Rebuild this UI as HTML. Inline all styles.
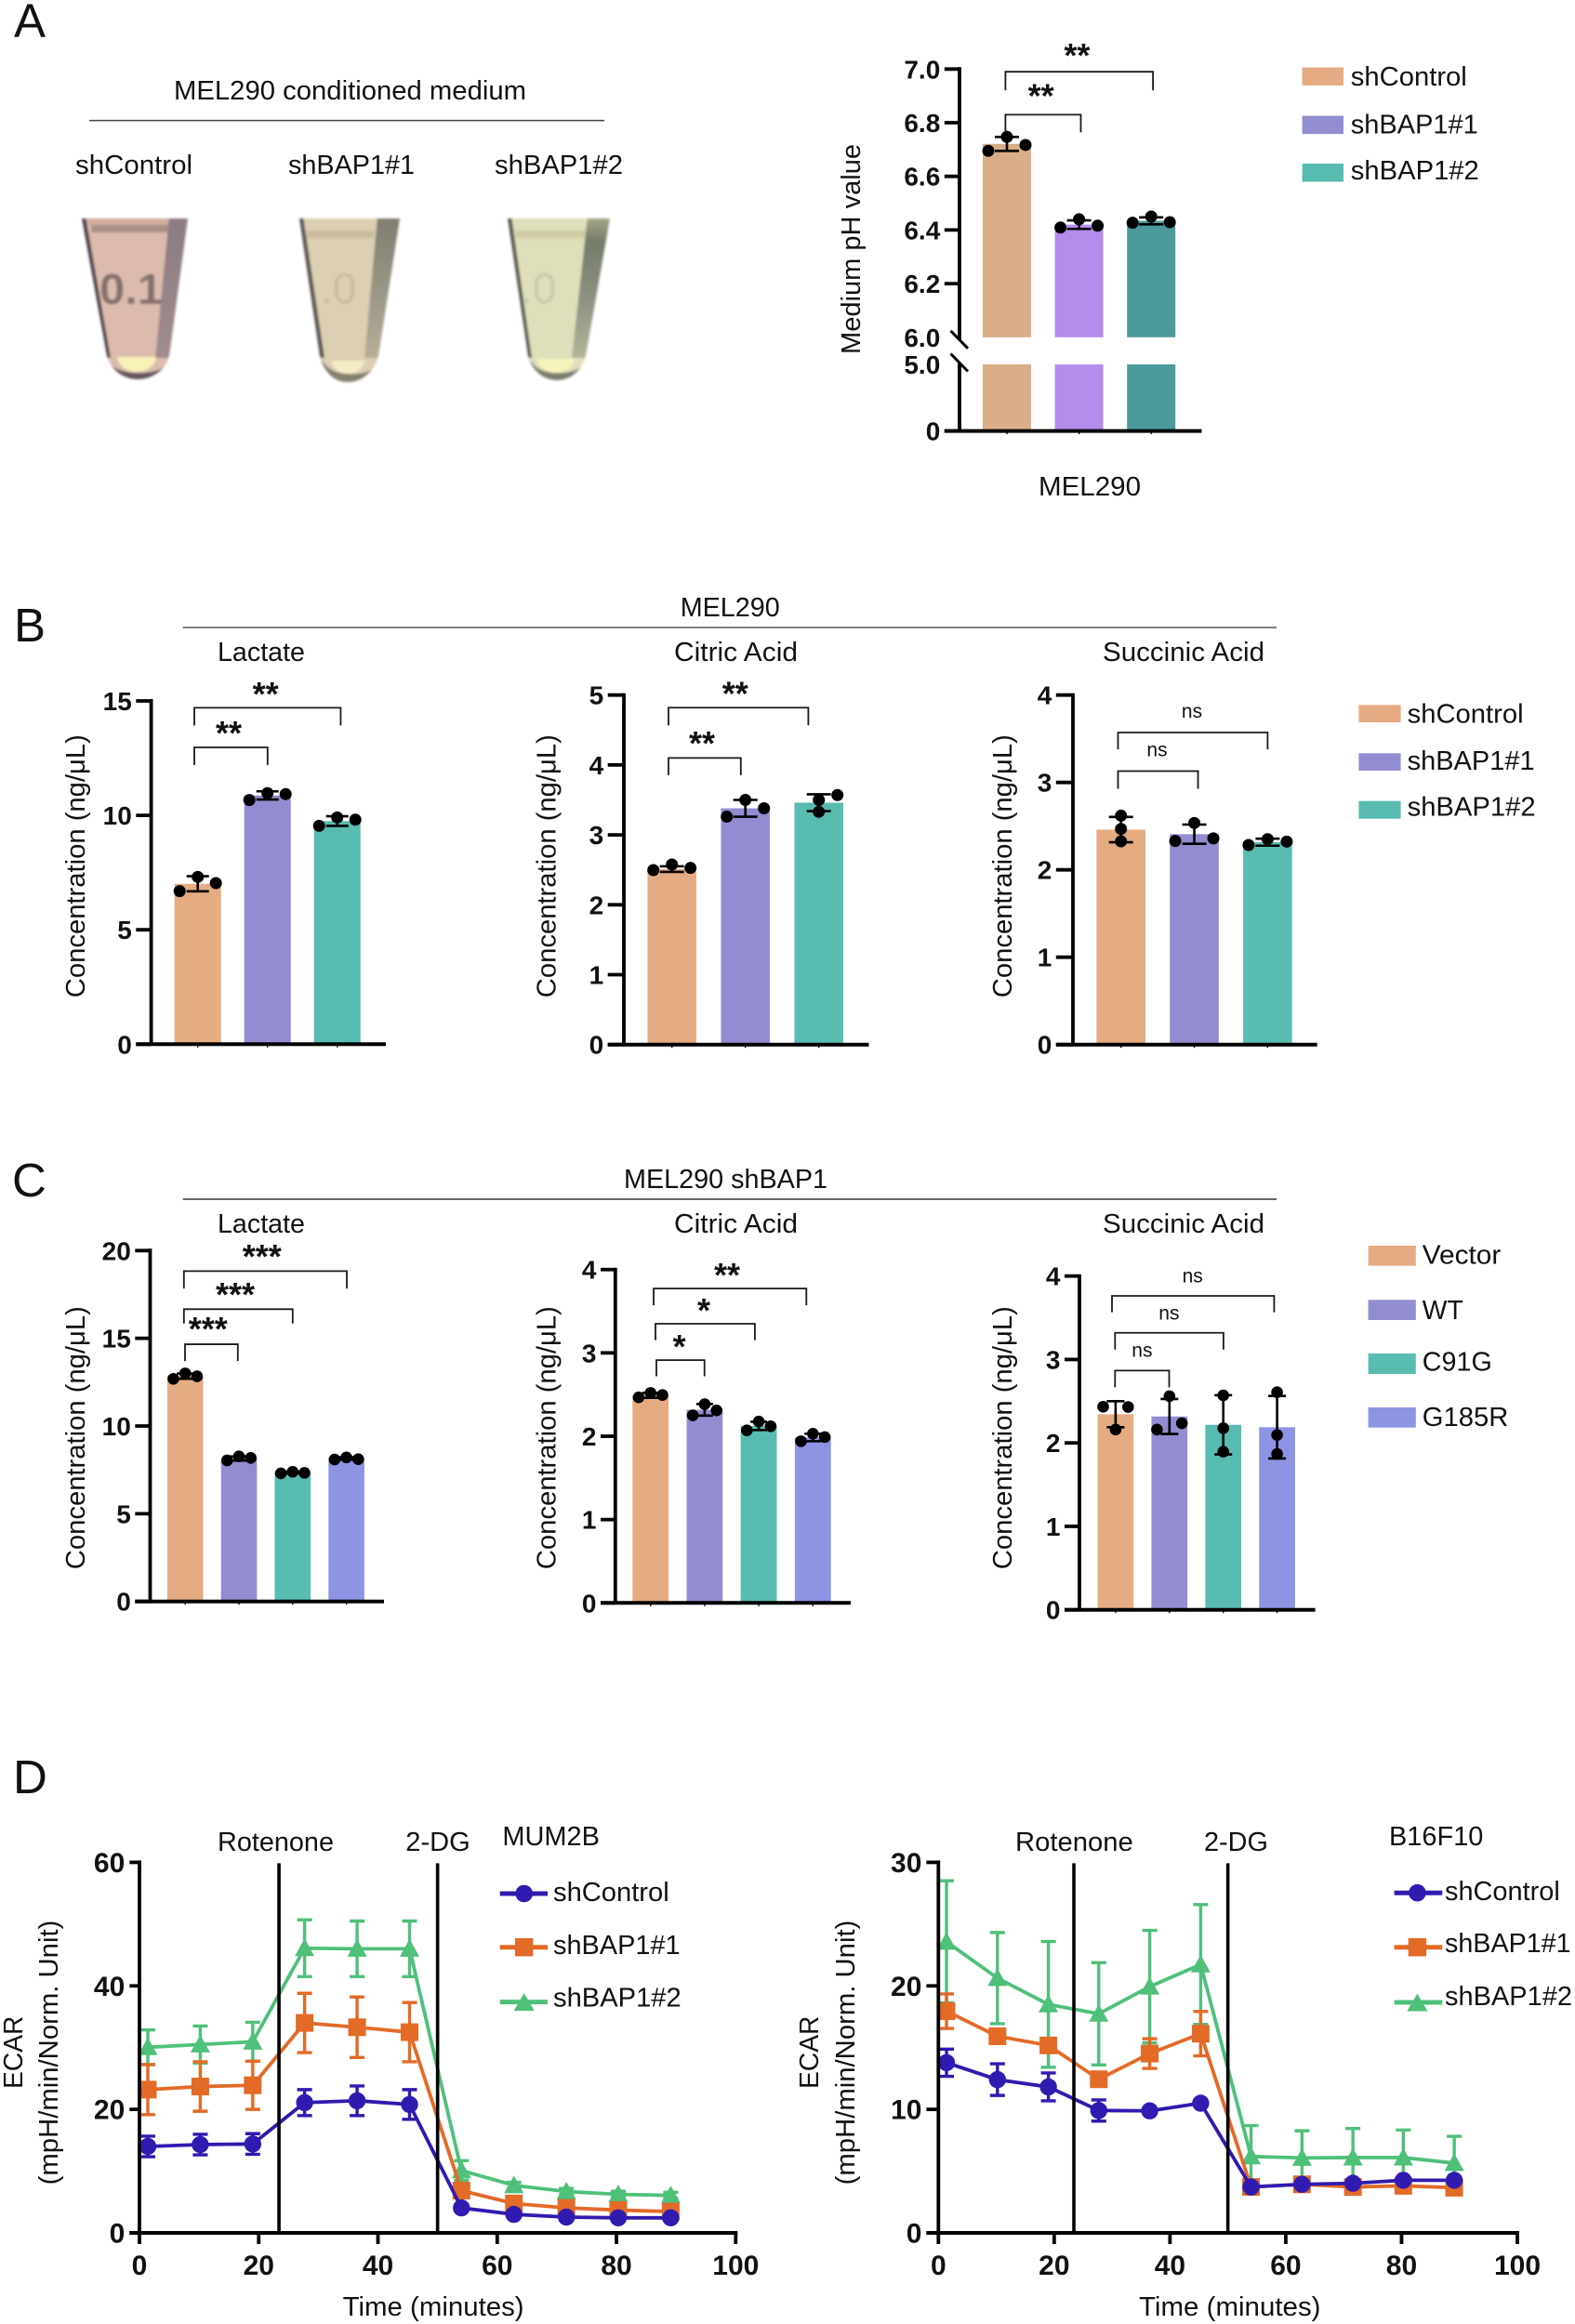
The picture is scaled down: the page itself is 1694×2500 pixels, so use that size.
<!DOCTYPE html>
<html lang="en">
<head>
<meta charset="utf-8">
<title>BAP1 metabolism figure</title>
<style>
html,body{margin:0;padding:0;background:#fff;}
svg{display:block;}
text{font-family:"Liberation Sans",Arial,sans-serif;fill:#111;}
</style>
</head>
<body>
<svg id="fig" xmlns="http://www.w3.org/2000/svg" width="1694" height="2500" viewBox="0 0 1694 2500">
<defs>
  <filter id="soft" x="-10%" y="-10%" width="120%" height="120%"><feGaussianBlur stdDeviation="1.3"/></filter>
  <filter id="softer" x="-20%" y="-20%" width="140%" height="140%"><feGaussianBlur stdDeviation="1.8"/></filter>
  <linearGradient id="band-1" x1="0" y1="0" x2="0" y2="1"><stop offset="0" stop-color="#8b7b82"/><stop offset="1" stop-color="#a08c8c"/></linearGradient>
  <linearGradient id="band-2" x1="0" y1="0" x2="0" y2="1"><stop offset="0" stop-color="#7f7d70"/><stop offset="0.55" stop-color="#9a9786"/><stop offset="1" stop-color="#b6ae98"/></linearGradient>
  <linearGradient id="band-3" x1="0" y1="0" x2="0" y2="1"><stop offset="0" stop-color="#a9ab8c"/><stop offset="0.18" stop-color="#757c6a"/><stop offset="0.6" stop-color="#8e9280"/><stop offset="1" stop-color="#b4b59a"/></linearGradient>
  <clipPath id="clip-tube-1"><path d="M88,235 L202,235 L182,383 C178,398 164,408 148,408 C132,408 120,398 115,383 Z"/></clipPath>
  <clipPath id="clip-tube-2"><path d="M322,235 L430,235 L407,383 C403,399 390,411 374,411 C358,411 348,399 344,383 Z"/></clipPath>
  <clipPath id="clip-tube-3"><path d="M546,235 L656,235 L630,383 C626,398 614,409 599,409 C584,409 572,398 568,383 Z"/></clipPath>
</defs>

<!-- Panel letters -->
<text x="15" y="40" font-size="51">A</text>
<text x="15" y="690" font-size="51">B</text>
<text x="13" y="1287" font-size="51">C</text>
<text x="14" y="1929" font-size="51">D</text>

<!-- Panel A: tube photo section -->
<g>
  <text x="187" y="107" font-size="29" textLength="379" lengthAdjust="spacingAndGlyphs">MEL290 conditioned medium</text>
  <line x1="96" y1="129.6" x2="650" y2="129.6" stroke="#444" stroke-width="1.5"/>
  <text x="81" y="187" font-size="29" textLength="126" lengthAdjust="spacingAndGlyphs">shControl</text>
  <text x="310" y="187" font-size="29" textLength="136" lengthAdjust="spacingAndGlyphs">shBAP1#1</text>
  <text x="532" y="187" font-size="29" textLength="138" lengthAdjust="spacingAndGlyphs">shBAP1#2</text>

  <g filter="url(#soft)">
    <g clip-path="url(#clip-tube-1)">
      <rect x="80" y="230" width="130" height="185" fill="#dcbbae"/>
      <rect x="94" y="235" width="90" height="7" fill="#d2ae9e"/>
      <rect x="98" y="242" width="84" height="8" fill="#a98f86"/>
      <polygon points="182,232 206,232 186,385 167,385" fill="url(#band-1)"/>
      <polygon points="86,232 92,232 119,385 113,385" fill="#4d4348"/>
      <text x="107" y="327" font-size="46" font-weight="bold" style="fill:#85716c" textLength="68" lengthAdjust="spacingAndGlyphs">0.1</text>
      <path d="M112,384 C118,400 132,412 148,412 C164,412 178,400 184,384 L178,394 C165,404 131,404 119,392 Z" fill="#63555b"/>
      <path d="M126,384 L168,384 C166,396 156,400 146,400 C136,400 128,394 126,384 Z" fill="#f8f1b8"/>
    </g>
  </g>
  <g filter="url(#soft)">
    <g clip-path="url(#clip-tube-2)">
      <rect x="315" y="230" width="122" height="185" fill="#dccfb3"/>
      <rect x="330" y="248" width="72" height="8" fill="#c9bb9c"/>
      <polygon points="406,232 434,232 411,385 392,385" fill="url(#band-2)"/>
      <polygon points="320,232 326,232 349,385 343,385" fill="#5a5652"/>
      <text x="345" y="326" font-size="46" style="fill:#c8bba2">.0</text>
      <path d="M342,384 C348,402 360,414 374,414 C390,414 402,402 410,384 L402,396 C392,405 358,405 350,392 Z" fill="#85816f"/>
      <path d="M356,388 L392,388 C390,398 382,402 373,402 C364,402 358,396 356,388 Z" fill="#f3ecc4"/>
    </g>
  </g>
  <g filter="url(#soft)">
    <g clip-path="url(#clip-tube-3)">
      <rect x="540" y="230" width="122" height="185" fill="#dfdfbc"/>
      <rect x="555" y="248" width="90" height="8" fill="#cfcba2"/>
      <polygon points="632,232 660,232 634,385 615,385" fill="url(#band-3)"/>
      <polygon points="544,232 550,232 572,385 566,385" fill="#595b50"/>
      <text x="560" y="326" font-size="46" style="fill:#cbcbac">.0</text>
      <path d="M566,384 C572,400 585,412 599,412 C614,412 626,400 632,384 L626,394 C615,404 583,404 574,392 Z" fill="#7d7e70"/>
      <path d="M578,386 L618,386 C616,398 606,401 597,401 C588,401 580,396 578,386 Z" fill="#f6f4ba"/>
    </g>
  </g>
</g>

<!-- Panel A: axis text and legend -->
<text transform="translate(925,268) rotate(-90)" text-anchor="middle" font-size="29" textLength="226" lengthAdjust="spacingAndGlyphs">Medium pH value</text>
<text x="1117" y="533" font-size="29" textLength="110" lengthAdjust="spacingAndGlyphs">MEL290</text>
<g>
  <rect x="1400.6" y="72.5" width="44.4" height="19.5" fill="#e5ac84"/>
  <text x="1452.8" y="92" font-size="29" textLength="125" lengthAdjust="spacingAndGlyphs">shControl</text>
  <rect x="1400.6" y="124.6" width="44.4" height="19.5" fill="#928cd0"/>
  <text x="1452.8" y="143.5" font-size="29" textLength="137" lengthAdjust="spacingAndGlyphs">shBAP1#1</text>
  <rect x="1400.6" y="176" width="44.4" height="19.5" fill="#58bcb0"/>
  <text x="1452.8" y="193" font-size="29" textLength="138" lengthAdjust="spacingAndGlyphs">shBAP1#2</text>
</g>

<!-- Panel B: headers -->
<text x="731.7" y="663" font-size="29" textLength="107" lengthAdjust="spacingAndGlyphs">MEL290</text>
<line x1="196.7" y1="675" x2="1373" y2="675" stroke="#555" stroke-width="1.5"/>
<text x="234" y="711" font-size="29" textLength="94" lengthAdjust="spacingAndGlyphs">Lactate</text>
<text x="725" y="711" font-size="29" textLength="133" lengthAdjust="spacingAndGlyphs">Citric Acid</text>
<text x="1186" y="711" font-size="29" textLength="174" lengthAdjust="spacingAndGlyphs">Succinic Acid</text>
<text transform="translate(91,931.7) rotate(-90)" text-anchor="middle" font-size="29" textLength="283" lengthAdjust="spacingAndGlyphs">Concentration (ng/μL)</text>
<text transform="translate(597.5,931.7) rotate(-90)" text-anchor="middle" font-size="29" textLength="283" lengthAdjust="spacingAndGlyphs">Concentration (ng/μL)</text>
<text transform="translate(1088,931.7) rotate(-90)" text-anchor="middle" font-size="29" textLength="283" lengthAdjust="spacingAndGlyphs">Concentration (ng/μL)</text>
<g>
  <rect x="1461.4" y="758.3" width="45.2" height="18.7" fill="#e5ac84"/>
  <text x="1513.6" y="777.5" font-size="29" textLength="125" lengthAdjust="spacingAndGlyphs">shControl</text>
  <rect x="1461.4" y="810.3" width="45.2" height="18.7" fill="#928cd0"/>
  <text x="1513.6" y="828" font-size="29" textLength="137" lengthAdjust="spacingAndGlyphs">shBAP1#1</text>
  <rect x="1461.4" y="861.7" width="45.2" height="19" fill="#58bcb0"/>
  <text x="1513.6" y="877.5" font-size="29" textLength="138" lengthAdjust="spacingAndGlyphs">shBAP1#2</text>
</g>

<!-- Panel C: headers -->
<text x="671" y="1278" font-size="29" textLength="219" lengthAdjust="spacingAndGlyphs">MEL290 shBAP1</text>
<line x1="196.7" y1="1290" x2="1373" y2="1290" stroke="#666" stroke-width="2"/>
<text x="234" y="1326" font-size="29" textLength="94" lengthAdjust="spacingAndGlyphs">Lactate</text>
<text x="725" y="1326" font-size="29" textLength="133" lengthAdjust="spacingAndGlyphs">Citric Acid</text>
<text x="1186" y="1326" font-size="29" textLength="174" lengthAdjust="spacingAndGlyphs">Succinic Acid</text>
<text transform="translate(91,1546.7) rotate(-90)" text-anchor="middle" font-size="29" textLength="283" lengthAdjust="spacingAndGlyphs">Concentration (ng/μL)</text>
<text transform="translate(597.5,1546.7) rotate(-90)" text-anchor="middle" font-size="29" textLength="283" lengthAdjust="spacingAndGlyphs">Concentration (ng/μL)</text>
<text transform="translate(1088,1546.7) rotate(-90)" text-anchor="middle" font-size="29" textLength="283" lengthAdjust="spacingAndGlyphs">Concentration (ng/μL)</text>
<g>
  <rect x="1471.6" y="1340" width="51.2" height="21.7" fill="#e5ac84"/>
  <text x="1529.8" y="1359.5" font-size="29" textLength="84.5" lengthAdjust="spacingAndGlyphs">Vector</text>
  <rect x="1471.6" y="1398.3" width="51.2" height="21.7" fill="#928cd0"/>
  <text x="1529.8" y="1419" font-size="29" textLength="44" lengthAdjust="spacingAndGlyphs">WT</text>
  <rect x="1471.6" y="1456" width="51.2" height="22" fill="#58bcb0"/>
  <text x="1529.8" y="1474.5" font-size="29" textLength="75" lengthAdjust="spacingAndGlyphs">C91G</text>
  <rect x="1471.6" y="1514" width="51.2" height="21.7" fill="#8f93e4"/>
  <text x="1529.8" y="1534" font-size="29" textLength="92.5" lengthAdjust="spacingAndGlyphs">G185R</text>
</g>

<!-- Panel D: static text -->
<text x="234" y="1991" font-size="29" textLength="125" lengthAdjust="spacingAndGlyphs">Rotenone</text>
<text x="436.3" y="1991" font-size="29" textLength="69.5" lengthAdjust="spacingAndGlyphs">2-DG</text>
<text x="540.4" y="1985" font-size="29" textLength="104.6" lengthAdjust="spacingAndGlyphs">MUM2B</text>
<text transform="translate(24,2207.8) rotate(-90)" text-anchor="middle" font-size="29" textLength="78.3" lengthAdjust="spacingAndGlyphs">ECAR</text>
<text transform="translate(62,2208) rotate(-90)" text-anchor="middle" font-size="29" textLength="284.7" lengthAdjust="spacingAndGlyphs">(mpH/min/Norm. Unit)</text>
<text x="368.6" y="2491" font-size="29" textLength="195" lengthAdjust="spacingAndGlyphs">Time (minutes)</text>
<text x="1092" y="1991" font-size="29" textLength="126.7" lengthAdjust="spacingAndGlyphs">Rotenone</text>
<text x="1295" y="1991" font-size="29" textLength="69" lengthAdjust="spacingAndGlyphs">2-DG</text>
<text x="1494" y="1985" font-size="29" textLength="101.4" lengthAdjust="spacingAndGlyphs">B16F10</text>
<text transform="translate(880,2207.8) rotate(-90)" text-anchor="middle" font-size="29" textLength="78.3" lengthAdjust="spacingAndGlyphs">ECAR</text>
<text transform="translate(919,2208) rotate(-90)" text-anchor="middle" font-size="29" textLength="284.7" lengthAdjust="spacingAndGlyphs">(mpH/min/Norm. Unit)</text>
<text x="1225" y="2491" font-size="29" textLength="195.5" lengthAdjust="spacingAndGlyphs">Time (minutes)</text>

<g>
  <line x1="537.7" y1="2037" x2="589" y2="2037" stroke="#2f1bb0" stroke-width="5"/>
  <circle cx="563.7" cy="2037" r="9.3" fill="#2f1bb0"/>
  <text x="595" y="2045" font-size="29" textLength="124.7" lengthAdjust="spacingAndGlyphs">shControl</text>
  <line x1="537.7" y1="2094.7" x2="589" y2="2094.7" stroke="#e36a27" stroke-width="5"/>
  <rect x="554" y="2085" width="19.4" height="19.4" fill="#e36a27"/>
  <text x="595" y="2102" font-size="29" textLength="136.6" lengthAdjust="spacingAndGlyphs">shBAP1#1</text>
  <line x1="537.7" y1="2153.6" x2="589" y2="2153.6" stroke="#4fc07a" stroke-width="5"/>
  <polygon points="563.7,2144 574.7,2163 552.7,2163" fill="#4fc07a"/>
  <text x="595" y="2158.5" font-size="29" textLength="137.7" lengthAdjust="spacingAndGlyphs">shBAP1#2</text>
</g>
<g>
  <line x1="1499.6" y1="2036.2" x2="1551.3" y2="2036.2" stroke="#2f1bb0" stroke-width="5"/>
  <circle cx="1524.4" cy="2036.2" r="9.3" fill="#2f1bb0"/>
  <text x="1554" y="2044" font-size="29" textLength="123.8" lengthAdjust="spacingAndGlyphs">shControl</text>
  <line x1="1499.6" y1="2094.7" x2="1551.3" y2="2094.7" stroke="#e36a27" stroke-width="5"/>
  <rect x="1514.7" y="2085" width="19.4" height="19.4" fill="#e36a27"/>
  <text x="1554" y="2100" font-size="29" textLength="135.6" lengthAdjust="spacingAndGlyphs">shBAP1#1</text>
  <line x1="1499.6" y1="2154" x2="1551.3" y2="2154" stroke="#4fc07a" stroke-width="5"/>
  <polygon points="1524.4,2144.5 1535.4,2163.5 1513.4,2163.5" fill="#4fc07a"/>
  <text x="1554" y="2157" font-size="29" textLength="137" lengthAdjust="spacingAndGlyphs">shBAP1#2</text>
</g>
</svg>

<script>
/* ---------- Panel A: medium pH ---------- */
const shGroups = ['shControl', 'shBAP1#1', 'shBAP1#2'];
const phMeans = [6.721, 6.42, 6.434];
const phSds = [0.026, 0.016, 0.013];
const phPoints = [[6.695, 6.747, 6.717], [6.409, 6.44, 6.416], [6.427, 6.45, 6.429]];
const phTicks = [0, 5, 6, 6.2, 6.4, 6.6, 6.8, 7];
const phTickLabels = ['0', '5.0', '6.0', '6.2', '6.4', '6.6', '6.8', '7.0'];

/* ---------- Panel B ---------- */
const lactateBMeans = [7.01, 10.87, 9.75];
const lactateBSds = [0.33, 0.18, 0.21];
const lactateBPoints = [[6.69, 7.31, 7.04], [10.67, 10.97, 10.93], [9.54, 9.91, 9.81]];
const lactateBTicks = [0, 5, 10, 15];

const citricBMeans = [2.51, 3.38, 3.46];
const citricBSds = [0.04, 0.12, 0.12];
const citricBPoints = [[2.496, 2.576, 2.527], [3.26, 3.5, 3.38], [3.5, 3.33, 3.57]];
const citricBSwarm = {2: [0, 0, 1]};
const citricBTicks = [0, 1, 2, 3, 4, 5];

const succinicBMeans = [2.46, 2.408, 2.316];
const succinicBSds = [0.145, 0.11, 0.04];
const succinicBPoints = [[2.62, 2.468, 2.326], [2.33, 2.536, 2.36], [2.284, 2.351, 2.323]];
const succinicBSwarm = {0: [0, 0, 0]};
const succinicBTicks = [0, 1, 2, 3, 4];

/* ---------- Panel C ---------- */
const rescueGroups = ['Vector', 'WT', 'C91G', 'G185R'];
const lactateCMeans = [12.84, 8.15, 7.35, 8.15];
const lactateCSds = [0.15, 0.12, 0.05, 0.07];
const lactateCPoints = [[12.69, 13.0, 12.83], [8.04, 8.27, 8.18], [7.3, 7.39, 7.33], [8.09, 8.21, 8.11]];
const lactateCTicks = [0, 5, 10, 15, 20];

const citricCMeans = [2.49, 2.317, 2.124, 1.985];
const citricCSds = [0.03, 0.07, 0.05, 0.045];
const citricCPoints = [[2.466, 2.52, 2.495], [2.25, 2.384, 2.31], [2.07, 2.176, 2.12], [1.94, 2.03, 1.99]];
const citricCTicks = [0, 1, 2, 3, 4];

const succinicCMeans = [2.344, 2.317, 2.217, 2.188];
const succinicCSds = [0.156, 0.21, 0.355, 0.375];
const succinicCPoints = [[2.434, 2.16, 2.43], [2.16, 2.56, 2.236], [2.57, 2.177, 1.894], [2.607, 2.095, 1.868]];
const succinicCSwarm = {2: [0, 0, 0], 3: [0, 0, 0]};
const succinicCTicks = [0, 1, 2, 3, 4];

/* ---------- Panel D ---------- */
const ecarTimes = [1.4, 10.2, 19, 27.7, 36.5, 45.3, 54, 62.8, 71.6, 80.3, 89.1];
const injectionTimes = [23.4, 50];
const timeTicks = [0, 20, 40, 60, 80, 100];

const mumYTicks = [0, 20, 40, 60];
const mumControl = [14.0, 14.3, 14.4, 21.1, 21.4, 20.8, 4.05, 3.0, 2.56, 2.44, 2.44];
const mumControlErr = [1.67, 1.67, 1.67, 2.1, 2.4, 2.4, 0.5, 0.4, 0.3, 0.3, 0.3];
const mumBap1 = [23.2, 23.7, 23.9, 34.0, 33.3, 32.5, 6.85, 4.76, 4.05, 3.7, 3.45];
const mumBap1Err = [4.05, 4.0, 3.9, 4.8, 4.9, 4.8, 0.8, 0.6, 0.5, 0.5, 0.5];
const mumBap2 = [30.06, 30.5, 30.95, 46.1, 46.0, 46.0, 10.1, 7.7, 6.7, 6.25, 6.07];
const mumBap2Err = [2.8, 3.0, 3.15, 4.6, 4.5, 4.5, 1.6, 0.5, 0.5, 0.5, 0.5];

const b16YTicks = [0, 10, 20, 30];
const b16Control = [13.78, 12.41, 11.82, 9.91, 9.88, 10.5, 3.72, 3.93, 4.02, 4.26, 4.26];
const b16ControlErr = [1.1, 1.28, 1.13, 0.86, 0.2, 0.2, 0.2, 0.2, 0.2, 0.2, 0.2];
const b16Bap1 = [17.95, 15.92, 15.18, 12.44, 14.52, 16.13, 3.72, 3.93, 3.72, 3.81, 3.66];
const b16Bap1Err = [1.4, 0.5, 0.5, 0.4, 1.2, 1.8, 0.2, 0.2, 0.2, 0.2, 0.2];
const b16Bap2 = [23.57, 20.63, 18.5, 17.74, 19.94, 21.73, 6.19, 6.07, 6.1, 6.1, 5.65];
const b16Bap2Err = [4.94, 3.69, 5.09, 4.14, 4.55, 4.85, 2.5, 2.2, 2.35, 2.23, 2.17];

/* ---------- helpers ---------- */
const NS = 'http://www.w3.org/2000/svg';
const fig = document.getElementById('fig');

function node(tag, parent, attrs) {
  const el = document.createElementNS(NS, tag);
  for (const k in attrs) el.setAttribute(k, attrs[k]);
  parent.appendChild(el);
  return el;
}
function linear(d0, d1, r0, r1) {
  return v => r0 + (v - d0) * (r1 - r0) / (d1 - d0);
}
function slug(s) {
  return String(s).toLowerCase().replace(/[^a-z0-9]+/g, '-').replace(/^-|-$/g, '');
}

const barFillsB = ['#e5ac84', '#928cd0', '#58bcb0', '#8f93e4'];
const barFillsA = ['#d9ae88', '#b38cec', '#4b9a9c'];

function drawBarChart(c) {
  const g = node('g', fig, {});
  
  
  const y = c.y;
  const xOf = i => c.firstX + i * c.step;
  const spans = c.spans || [[0, Infinity]];

  c.means.forEach((m, i) => {
    spans.forEach(sp => {
      if (m <= sp[0]) return;
      const top = y(Math.min(m, sp[1]));
      const bar = node('rect', g, {x: xOf(i) - c.width / 2, y: top, width: c.width, height: y(sp[0]) - top, fill: c.fills[i]});
      
      
    });
  });

  c.means.forEach((m, i) => {
    const hi = y(m + c.sds[i]);
    const lo = y(m - c.sds[i]);
    const xc = xOf(i);
    const stem = node('path', g, {
      d: `M${xc},${hi}V${lo}M${xc - c.cap},${hi}H${xc + c.cap}M${xc - c.cap},${lo}H${xc + c.cap}`,
      fill: 'none', stroke: '#000', 'stroke-width': 2.6
    });
    
    
    c.points[i].forEach((p, j) => {
      const slots = (c.swarm && c.swarm[i]) || [-1, 0, 1];
      const dot = node('circle', g, {cx: xc + slots[j] * c.spread, cy: y(p), r: c.dotR || 6.5, fill: '#000'});
      
      
    });
    const xt = node('line', g, {x1: xc, x2: xc, y1: y(0), y2: y(0) + 3.5, stroke: '#000', 'stroke-width': 1.4});
    
    
  });

  const yAxis = node('g', g, {});
  
  
  const axisTop = y(c.ticks[c.ticks.length - 1]) - 2;
  const axisD = c.broken
    ? `M${c.axisX},${axisTop}V${y(c.broken[1]) + 2.5}M${c.axisX},${y(c.broken[0]) - 2}V${y(0)}`
    : `M${c.axisX},${axisTop}V${y(0)}`;
  const yLine = node('path', yAxis, {d: axisD, fill: 'none', stroke: '#000', 'stroke-width': 3.8});
  
  
  if (c.broken) {
    c.broken.forEach(b => {
      const cy = y(b) + (b === c.broken[0] ? -2 : 2.5);
      const slash = node('line', yAxis, {x1: c.axisX - 9.5, y1: cy - 9.5, x2: c.axisX + 9, y2: cy + 9.5, stroke: '#000', 'stroke-width': 3});
      
      
    });
  }
  c.ticks.forEach((t, i) => {
    if (!c.broken || c.broken.indexOf(t) < 0) {
      const tick = node('line', yAxis, {x1: c.tickStart, x2: c.axisX, y1: y(t), y2: y(t), stroke: '#000', 'stroke-width': 3.8});
      
      
    }
    const lab = node('text', yAxis, {x: c.tickStart - 4.5, y: y(t) + 10, 'text-anchor': 'end', 'font-size': 28, 'font-weight': 'bold'});
    lab.textContent = c.tickLabels ? c.tickLabels[i] : String(t);
    
    
  });
  const xAxis = node('line', g, {x1: c.tickStart, x2: c.xEnd, y1: y(0), y2: y(0), stroke: '#000', 'stroke-width': 4});
  
  

  c.brackets.forEach(b => {
    const x0 = xOf(b.a) + b.na;
    const x1 = xOf(b.b) + b.nb;
    const top = y(b.level);
    const br = node('path', g, {d: `M${x0},${top + b.drop}V${top}H${x1}V${top + b.drop}`, fill: 'none', stroke: '#1a1a1a', 'stroke-width': 1.8});
    
    
    const ns = b.text === 'ns';
    const lab = node('text', g, ns
      ? {x: b.tx, y: b.ty + 6, 'text-anchor': 'middle', 'font-size': 21}
      : {x: b.tx, y: b.ty + 17.5, 'text-anchor': 'middle', 'font-size': 36, 'font-weight': 'bold'});
    lab.textContent = b.text;
    
    
  });
}

function drawEcarChart(c) {
  const g = node('g', fig, {});
  
  
  const x = c.x, y = c.y;

  c.series.forEach(s => {
    const sg = node('g', g, {});
    
    
    s.values.forEach((v, i) => {
      const xc = x(ecarTimes[i]);
      const hi = y(v + s.err[i]);
      const lo = y(v - s.err[i]);
      const eb = node('path', sg, {
        d: `M${xc},${hi}V${lo}M${xc - 8},${hi}H${xc + 8}M${xc - 8},${lo}H${xc + 8}`,
        fill: 'none', stroke: s.color, 'stroke-width': 3.4
      });
      
      
    });
    const line = node('polyline', sg, {
      points: s.values.map((v, i) => x(ecarTimes[i]) + ',' + y(v)).join(' '),
      fill: 'none', stroke: s.color, 'stroke-width': 3.8
    });
    
    
    s.values.forEach((v, i) => {
      const xc = x(ecarTimes[i]);
      const yc = y(v);
      let m;
      if (s.marker === 'circle') {
        m = node('circle', sg, {cx: xc, cy: yc, r: 9.2, fill: s.color});
      } else if (s.marker === 'square') {
        m = node('rect', sg, {x: xc - 9.5, y: yc - 9.5, width: 19, height: 19, fill: s.color});
      } else {
        m = node('polygon', sg, {points: `${xc},${yc - 10.5} ${xc + 10.5},${yc + 8.5} ${xc - 10.5},${yc + 8.5}`, fill: s.color});
      }
      
      
    });
  });

  injectionTimes.forEach(t => {
    const v = node('line', g, {x1: x(t), x2: x(t), y1: y(c.yMax) + 1, y2: y(0), stroke: '#000', 'stroke-width': 3.6});
    
    
  });

  const yLine = node('line', g, {x1: x(0), x2: x(0), y1: y(c.yMax) - 2, y2: y(0) + 2, stroke: '#000', 'stroke-width': 3.8});
  
  
  c.yTicks.forEach(t => {
    const tick = node('line', g, {x1: c.tickStart, x2: x(0), y1: y(t), y2: y(t), stroke: '#000', 'stroke-width': 3.8});
    
    
    const lab = node('text', g, {x: c.tickStart - 5, y: y(t) + 10.5, 'text-anchor': 'end', 'font-size': 30, 'font-weight': 'bold'});
    lab.textContent = String(t);
    
    
  });
  const xLine = node('line', g, {x1: c.tickStart, x2: x(100) + 2, y1: y(0), y2: y(0), stroke: '#000', 'stroke-width': 4});
  
  
  timeTicks.forEach(t => {
    const tick = node('line', g, {x1: x(t), x2: x(t), y1: y(0), y2: y(0) + 12, stroke: '#000', 'stroke-width': 3.8});
    
    
    const lab = node('text', g, {x: x(t), y: y(0) + 45, 'text-anchor': 'middle', 'font-size': 30, 'font-weight': 'bold'});
    lab.textContent = String(t);
    
    
  });
}

/* ---------- draw: panel A ---------- */
const phYLow = linear(0, 5, 463.6, 392);
const phYGap = linear(5, 6, 392, 362.8);
const phYHigh = linear(6, 7, 362.8, 74.3);
drawBarChart({
  name: 'medium-ph-chart', groups: shGroups, means: phMeans, sds: phSds, points: phPoints,
  ticks: phTicks, tickLabels: phTickLabels, broken: [5, 6], spans: [[0, 5], [6, Infinity]],
  y: v => v <= 5 ? phYLow(v) : (v <= 6 ? phYGap(v) : phYHigh(v)),
  firstX: 1083, step: 77.6, width: 52, spread: 20, cap: 13, fills: barFillsA,
  axisX: 1032, tickStart: 1015.8, xEnd: 1292.4,
  brackets: [
    {a: 0, b: 2, na: -1.6, nb: 1.9, level: 6.99, drop: 20, text: '**', tx: 1158.4, ty: 54.6},
    {a: 0, b: 1, na: -1.6, nb: 1.9, level: 6.83, drop: 19, text: '**', tx: 1119.6, ty: 98}
  ]
});

/* ---------- draw: panel B ---------- */
drawBarChart({
  name: 'lactate-chart-b', groups: shGroups, means: lactateBMeans, sds: lactateBSds, points: lactateBPoints,
  ticks: lactateBTicks, y: linear(0, 15, 1123.3, 754),
  firstX: 212.7, step: 75, width: 50, spread: 19.5, cap: 12, fills: barFillsB,
  axisX: 162.6, tickStart: 146.3, xEnd: 415,
  brackets: [
    {a: 0, b: 2, na: -3.7, nb: 3.7, level: 14.7, drop: 19, text: '**', tx: 285.6, ty: 741.7},
    {a: 0, b: 1, na: -3.7, nb: 0.1, level: 12.97, drop: 19, text: '**', tx: 246, ty: 783.7}
  ]
});
drawBarChart({
  name: 'citric-acid-chart-b', groups: shGroups, means: citricBMeans, sds: citricBSds, points: citricBPoints,
  swarm: citricBSwarm, ticks: citricBTicks, y: linear(0, 5, 1123.7, 747.7),
  firstX: 722.7, step: 79, width: 52.5, spread: 20, cap: 13, fills: barFillsB,
  axisX: 671, tickStart: 653.7, xEnd: 934.5,
  brackets: [
    {a: 0, b: 2, na: -3.7, nb: -11.3, level: 4.82, drop: 19, text: '**', tx: 790.8, ty: 741},
    {a: 0, b: 1, na: -3.7, nb: -4.9, level: 4.1, drop: 18.5, text: '**', tx: 755, ty: 794.3}
  ]
});
drawBarChart({
  name: 'succinic-acid-chart-b', groups: shGroups, means: succinicBMeans, sds: succinicBSds, points: succinicBPoints,
  swarm: succinicBSwarm, ticks: succinicBTicks, y: linear(0, 4, 1123.7, 747.7),
  firstX: 1205.7, step: 78.85, width: 52.6, spread: 20.5, cap: 13, fills: barFillsB,
  axisX: 1154, tickStart: 1135.8, xEnd: 1416.7,
  brackets: [
    {a: 0, b: 2, na: -3.2, nb: 0, level: 3.571, drop: 18, text: 'ns', tx: 1282, ty: 766},
    {a: 0, b: 1, na: -3.2, nb: 4, level: 3.13, drop: 19, text: 'ns', tx: 1244.5, ty: 807.7}
  ]
});

/* ---------- draw: panel C ---------- */
drawBarChart({
  name: 'lactate-chart-c', groups: rescueGroups, means: lactateCMeans, sds: lactateCSds, points: lactateCPoints,
  ticks: lactateCTicks, y: linear(0, 20, 1722.7, 1345.3),
  firstX: 199.2, step: 57.8, width: 38.6, spread: 12.7, cap: 9, dotR: 6.3, fills: barFillsB,
  axisX: 161.5, tickStart: 145.3, xEnd: 413,
  brackets: [
    {a: 0, b: 3, na: -1.4, nb: 0.4, level: 18.83, drop: 18.7, text: '***', tx: 281.8, ty: 1346.7},
    {a: 0, b: 2, na: -1.4, nb: 0, level: 16.66, drop: 15.4, text: '***', tx: 253, ty: 1387.7},
    {a: 0, b: 1, na: -0.2, nb: -1.2, level: 14.66, drop: 18, text: '***', tx: 223.8, ty: 1424.3}
  ]
});
drawBarChart({
  name: 'citric-acid-chart-c', groups: rescueGroups, means: citricCMeans, sds: citricCSds, points: citricCPoints,
  ticks: citricCTicks, y: linear(0, 4, 1724.3, 1365.7),
  firstX: 699.7, step: 58.2, width: 38.8, spread: 12.8, cap: 9, dotR: 6.3, fills: barFillsB,
  axisX: 661.8, tickStart: 646, xEnd: 915,
  brackets: [
    {a: 0, b: 3, na: 3.3, nb: -7, level: 3.772, drop: 18, text: '**', tx: 782, ty: 1366.7},
    {a: 0, b: 2, na: 5.3, nb: -4.2, level: 3.35, drop: 17.7, text: '*', tx: 757, ty: 1404.3},
    {a: 0, b: 1, na: 6.3, nb: -0.2, level: 2.913, drop: 17.4, text: '*', tx: 730.6, ty: 1443.3}
  ]
});
drawBarChart({
  name: 'succinic-acid-chart-c', groups: rescueGroups, means: succinicCMeans, sds: succinicCSds, points: succinicCPoints,
  swarm: succinicCSwarm, ticks: succinicCTicks, y: linear(0, 4, 1731.7, 1372.7),
  firstX: 1199.9, step: 57.9, width: 38.7, spread: 13.4, cap: 9.5, dotR: 6.3, fills: barFillsB,
  axisX: 1161, tickStart: 1145, xEnd: 1414.6,
  brackets: [
    {a: 0, b: 3, na: -3.9, nb: -3.2, level: 3.763, drop: 17.7, text: 'ns', tx: 1282.7, ty: 1373.3},
    {a: 0, b: 2, na: -0.6, nb: 0.2, level: 3.32, drop: 18, text: 'ns', tx: 1257.4, ty: 1413.3},
    {a: 0, b: 1, na: -0.6, nb: -0.3, level: 2.867, drop: 18, text: 'ns', tx: 1228.4, ty: 1453.3}
  ]
});

/* ---------- draw: panel D ---------- */
drawEcarChart({
  name: 'ecar-chart-mum2b', x: linear(0, 100, 150, 791.3), y: linear(0, 60, 2402, 2003.4),
  yMax: 60, yTicks: mumYTicks, tickStart: 139.3,
  series: [
    {label: 'shBAP1#2', values: mumBap2, err: mumBap2Err, color: '#4fc07a', marker: 'triangle'},
    {label: 'shBAP1#1', values: mumBap1, err: mumBap1Err, color: '#e36a27', marker: 'square'},
    {label: 'shControl', values: mumControl, err: mumControlErr, color: '#2f1bb0', marker: 'circle'}
  ]
});
drawEcarChart({
  name: 'ecar-chart-b16f10', x: linear(0, 100, 1009.3, 1632), y: linear(0, 30, 2402, 2003.4),
  yMax: 30, yTicks: b16YTicks, tickStart: 996.4,
  series: [
    {label: 'shBAP1#2', values: b16Bap2, err: b16Bap2Err, color: '#4fc07a', marker: 'triangle'},
    {label: 'shBAP1#1', values: b16Bap1, err: b16Bap1Err, color: '#e36a27', marker: 'square'},
    {label: 'shControl', values: b16Control, err: b16ControlErr, color: '#2f1bb0', marker: 'circle'}
  ]
});
</script>
</body>
</html>
